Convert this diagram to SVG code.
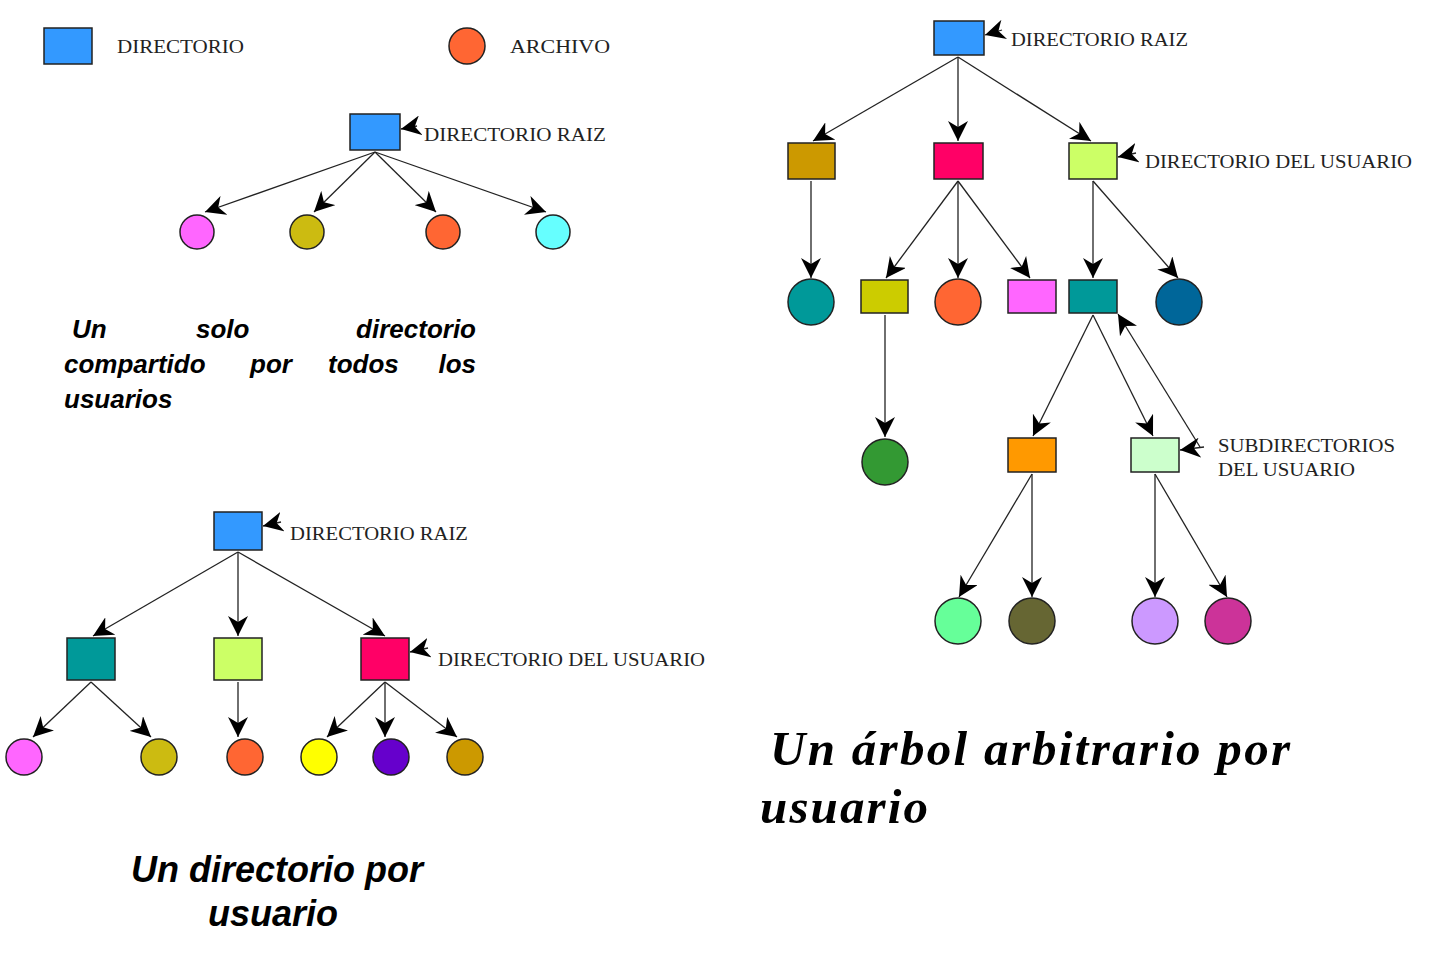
<svg xmlns="http://www.w3.org/2000/svg" width="1431" height="961" viewBox="0 0 1431 961">
<style>
.n{stroke:#222;stroke-width:1.5}
.c line,.c path{stroke:#222;stroke-width:1.3;fill:none;marker-end:url(#a)}
.lb{font-family:"Liberation Serif",serif;font-size:19px;fill:#222}
.bi{font-family:"Liberation Sans",Arial,sans-serif;font-weight:bold;font-style:italic;font-size:26px;fill:#000}
.big{font-family:"Liberation Sans",Arial,sans-serif;font-weight:bold;font-style:italic;font-size:36px;fill:#000}
.ser{font-family:"Liberation Serif",serif;font-weight:bold;font-style:italic;font-size:49px;fill:#000}
</style>
<defs>
<marker id="a" viewBox="0 0 10 10" refX="10" refY="5" markerWidth="20" markerHeight="20" markerUnits="userSpaceOnUse" orient="auto"><path d="M0,0 L10,5 L0,10 L3,5 z" fill="#000"/></marker>
</defs>
<rect width="1431" height="961" fill="#fff"/>
<g id="legend">
<rect class="n" x="44" y="28" width="48" height="36" fill="#3399FF"/>
<text class="lb" x="117" y="53" textLength="127" lengthAdjust="spacingAndGlyphs">DIRECTORIO</text>
<circle class="n" cx="467" cy="46" r="18" fill="#FF6633"/>
<text class="lb" x="510" y="53" textLength="100" lengthAdjust="spacingAndGlyphs">ARCHIVO</text>
</g>
<g class="c" id="connectors">
<line x1="375" y1="152" x2="205" y2="212"/><line x1="375" y1="152" x2="314" y2="212"/><line x1="375" y1="152" x2="436" y2="212"/><line x1="375" y1="152" x2="546" y2="212"/>
<line x1="417" y1="126" x2="401" y2="129"/>
<line x1="238" y1="552" x2="93" y2="636"/><line x1="238" y1="552" x2="238" y2="636"/><line x1="238" y1="552" x2="385" y2="636"/>
<line x1="281" y1="522" x2="263" y2="526"/><line x1="428" y1="648" x2="410" y2="652"/>
<line x1="91" y1="682" x2="33" y2="737"/><line x1="91" y1="682" x2="151" y2="737"/><line x1="238" y1="682" x2="238" y2="737"/>
<line x1="385" y1="682" x2="327" y2="737"/><line x1="385" y1="682" x2="385" y2="737"/><line x1="385" y1="682" x2="457" y2="737"/>
<line x1="958" y1="57" x2="813" y2="141"/><line x1="958" y1="57" x2="958" y2="141"/><line x1="958" y1="57" x2="1091" y2="141"/>
<line x1="1002" y1="30" x2="985" y2="35"/><line x1="1136" y1="153" x2="1118" y2="157"/>
<line x1="811" y1="181" x2="811" y2="278"/>
<line x1="958" y1="181" x2="886" y2="278"/><line x1="958" y1="181" x2="958" y2="278"/><line x1="958" y1="181" x2="1030" y2="278"/>
<line x1="1093" y1="181" x2="1093" y2="278"/><line x1="1093" y1="181" x2="1178" y2="278"/>
<line x1="885" y1="315" x2="885" y2="437"/>
<line x1="1093" y1="315" x2="1033" y2="436"/><line x1="1093" y1="315" x2="1153" y2="436"/>
<path d="M1200,447 L1118,314"/><line x1="1204" y1="447" x2="1180" y2="450"/>
<line x1="1032" y1="474" x2="959" y2="597"/><line x1="1032" y1="474" x2="1032" y2="597"/>
<line x1="1155" y1="474" x2="1155" y2="597"/><line x1="1155" y1="474" x2="1227" y2="597"/>
</g>
<g id="t1">
<rect class="n" x="350" y="114" width="50" height="36" fill="#3399FF"/>
<text class="lb" x="424" y="141" textLength="182" lengthAdjust="spacingAndGlyphs">DIRECTORIO RAIZ</text>
<circle class="n" cx="197" cy="232" r="17" fill="#FF66FF"/>
<circle class="n" cx="307" cy="232" r="17" fill="#CCBB11"/>
<circle class="n" cx="443" cy="232" r="17" fill="#FF6633"/>
<circle class="n" cx="553" cy="232" r="17" fill="#66FFFF"/>
</g>
<g id="cap1">
<text class="bi" x="72" y="338">Un</text><text class="bi" x="196" y="338">solo</text><text class="bi" x="476" y="338" text-anchor="end">directorio</text>
<text class="bi" x="64" y="373">compartido</text><text class="bi" x="250" y="373">por</text><text class="bi" x="328" y="373">todos</text><text class="bi" x="476" y="373" text-anchor="end">los</text>
<text class="bi" x="64" y="408">usuarios</text>
</g>
<g id="t2">
<rect class="n" x="214" y="512" width="48" height="38" fill="#3399FF"/>
<text class="lb" x="290" y="540" textLength="178" lengthAdjust="spacingAndGlyphs">DIRECTORIO RAIZ</text>
<rect class="n" x="67" y="638" width="48" height="42" fill="#009999"/>
<rect class="n" x="214" y="638" width="48" height="42" fill="#CCFF66"/>
<rect class="n" x="361" y="638" width="48" height="42" fill="#FF0066"/>
<text class="lb" x="438" y="666" textLength="267" lengthAdjust="spacingAndGlyphs">DIRECTORIO DEL USUARIO</text>
<circle class="n" cx="24" cy="757" r="18" fill="#FF66FF"/>
<circle class="n" cx="159" cy="757" r="18" fill="#CCBB11"/>
<circle class="n" cx="245" cy="757" r="18" fill="#FF6633"/>
<circle class="n" cx="319" cy="757" r="18" fill="#FFFF00"/>
<circle class="n" cx="391" cy="757" r="18" fill="#6600CC"/>
<circle class="n" cx="465" cy="757" r="18" fill="#CC9900"/>
<text class="big" x="277" y="882" text-anchor="middle">Un directorio por</text>
<text class="big" x="273" y="926" text-anchor="middle">usuario</text>
</g>
<g id="t3">
<rect class="n" x="934" y="21" width="50" height="34" fill="#3399FF"/>
<text class="lb" x="1011" y="46" textLength="177" lengthAdjust="spacingAndGlyphs">DIRECTORIO RAIZ</text>
<rect class="n" x="788" y="143" width="47" height="36" fill="#CC9900"/>
<rect class="n" x="934" y="143" width="49" height="36" fill="#FF0066"/>
<rect class="n" x="1069" y="143" width="48" height="36" fill="#CCFF66"/>
<text class="lb" x="1145" y="168" textLength="267" lengthAdjust="spacingAndGlyphs">DIRECTORIO DEL USUARIO</text>
<circle class="n" cx="811" cy="302" r="23" fill="#009999"/>
<rect class="n" x="861" y="280" width="47" height="33" fill="#CCCC00"/>
<circle class="n" cx="958" cy="302" r="23" fill="#FF6633"/>
<rect class="n" x="1008" y="280" width="48" height="33" fill="#FF66FF"/>
<rect class="n" x="1069" y="280" width="48" height="33" fill="#009999"/>
<circle class="n" cx="1179" cy="302" r="23" fill="#006699"/>
<circle class="n" cx="885" cy="462" r="23" fill="#339933"/>
<rect class="n" x="1008" y="438" width="48" height="34" fill="#FF9900"/>
<rect class="n" x="1131" y="438" width="48" height="34" fill="#CCFFCC"/>
<text class="lb" x="1218" y="452" textLength="177" lengthAdjust="spacingAndGlyphs">SUBDIRECTORIOS</text>
<text class="lb" x="1218" y="476" textLength="137" lengthAdjust="spacingAndGlyphs">DEL USUARIO</text>
<circle class="n" cx="958" cy="621" r="23" fill="#66FF99"/>
<circle class="n" cx="1032" cy="621" r="23" fill="#666633"/>
<circle class="n" cx="1155" cy="621" r="23" fill="#CC99FF"/>
<circle class="n" cx="1228" cy="621" r="23" fill="#CC3399"/>
<text class="ser" x="770" y="765" textLength="520">Un árbol arbitrario por</text>
<text class="ser" x="760" y="823" textLength="168">usuario</text>
</g>
</svg>
